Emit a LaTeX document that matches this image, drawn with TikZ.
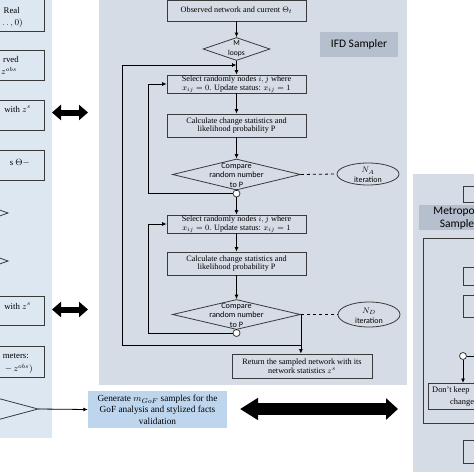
\documentclass[tikz,border=0pt]{standalone}
\usepackage{fontspec}
\setmainfont{Liberation Serif}
\newfontfamily\calibri{Carlito}
\usetikzlibrary{arrows.meta,shapes.geometric,calc}
\definecolor{leftbg}{HTML}{DDE7F2}
\definecolor{midbg}{HTML}{D6DCE5}
\definecolor{lblbg}{HTML}{B6BFCD}
\definecolor{genbg}{HTML}{BDD6EE}
\definecolor{edge}{HTML}{3A3A3A}
\begin{document}
\begin{tikzpicture}[x=1pt,y=-1pt,
  >={Latex[length=4.5pt,width=4pt]},
  box/.style={draw=edge, line width=0.8pt, fill=midbg, align=center, inner sep=0pt,
    font=\fontsize{8.2}{8.8}\selectfont},
  dia/.style={draw=edge, line width=0.8pt, fill=midbg, diamond, inner sep=0pt},
  sanstxt/.style={align=center, inner sep=0pt, font=\calibri\fontsize{8.2}{9.4}\selectfont},
  ell/.style={draw=edge, line width=0.8pt, fill=midbg, ellipse, inner sep=0pt},
  conn/.style={draw=black, line width=0.8pt},
  lbox/.style={draw=edge, line width=0.8pt},
  ltxt/.style={inner sep=0pt, anchor=east, font=\fontsize{8.8}{10}\selectfont},
  lbl/.style={fill=lblbg, inner sep=0pt, align=center, font=\calibri\fontsize{11.5}{13}\selectfont},
  fat/.style={line width=6pt, {Triangle[length=9pt,width=15pt]}-{Triangle[length=9pt,width=15pt]}},
  bigfat/.style={line width=12pt, {Triangle[length=18pt,width=21pt]}-{Triangle[length=12pt,width=21pt]}}
]
\useasboundingbox (0,0) rectangle (474,474);
\clip (0,0) rectangle (474,474);
\fill[white] (0,0) rectangle (474,474);

% ---------- panels ----------
\fill[leftbg] (0,0) rectangle (52,438);
\fill[midbg] (99,0) rectangle (407,385);
\fill[midbg] (413,174) rectangle (480,472);

% ---------- left panel ----------
\draw[lbox] (-60,-5) rectangle (44,31);
\node[ltxt] (l1a) at (20,10) {Real};
\node[ltxt] (l1b) at (23,23) {$\ldots,0)$};
\draw[lbox] (-60,50) rectangle (44,80);
\node[ltxt] (l2a) at (19,59) {rved};
\node[ltxt] (l2b) at (17,71) {$z^{obs}$};
\draw[lbox] (-60,100) rectangle (44,130);
\node[ltxt] (l3a) at (31,109) {with $z^s$};
\draw[lbox] (-60,150) rectangle (44,180);
\node[ltxt] (l4a) at (30,163) {s $\Theta -$};
\draw[lbox] (-20,203) -- (8,213) -- (-20,223);
\draw[lbox] (-20,251) -- (8,261) -- (-20,271);
\draw[lbox] (-60,296) rectangle (44,325);
\node[ltxt] (l5a) at (31,306) {with $z^s$};
\draw[lbox] (-60,346) rectangle (44,377);
\node[ltxt] (l6a) at (29,356) {meters:};
\node[ltxt] (l6b) at (33,369) {$-\,z^{obs})$};
\coordinate (ld3tip) at (38,409);
\draw[lbox] (-5,397.5) -- (ld3tip) -- (-5,420.5);

% ---------- fat arrows ----------
\coordinate (fa1) at (52,112.5);
\coordinate (fa2) at (88,112.5);
\coordinate (fb1) at (52,309.5);
\coordinate (fb2) at (88,309.5);
\draw[fat] (fa1) -- (fa2);
\draw[fat] (fb1) -- (fb2);

% ---------- IFD sampler ----------
\node[lbl, minimum width=78, minimum height=25] (ifd) at (359,44.5) {IFD Sampler};

\node[box, minimum width=139, minimum height=21] (obs) at (236.5,10.5) {Observed network and current $\Theta_t$};
\node[dia, minimum width=67, minimum height=23] (mloops) at (236.5,49) {};
\node[sanstxt, font=\calibri\fontsize{7.6}{9.6}\selectfont] (mloopst) at (236.5,48.5) {M\\loops};
\node[box, minimum width=139, minimum height=18] (sel1) at (236.5,84) {Select randomly nodes $i,j$ where\\$x_{ij}=0$. Update status: $x_{ij}=1$};
\node[box, minimum width=139, minimum height=23] (calc1) at (236.5,125.5) {Calculate change statistics and\\likelihood probability P};
\node[dia, minimum width=128, minimum height=31] (cmp1) at (236.5,174.5) {};
\node[sanstxt] (cmp1t) at (236.5,175) {Compare\\random number\\to P};
\node[draw=edge, line width=0.8pt, fill=white, circle, minimum size=7, inner sep=0pt] (c1) at (236.5,193.5) {};
\node[ell, minimum width=62, minimum height=22] (na) at (368,174) {};
\node[sanstxt, font=\calibri\fontsize{8}{10}\selectfont] (nat) at (368,175) {$N_A$\\iteration};

\node[box, minimum width=139, minimum height=18] (sel2) at (236.5,224) {Select randomly nodes $i,j$ where\\$x_{ij}=0$. Update status: $x_{ij}=1$};
\node[box, minimum width=139, minimum height=23] (calc2) at (236.5,263.5) {Calculate change statistics and\\likelihood probability P};
\node[dia, minimum width=128, minimum height=30] (cmp2) at (236.5,314.5) {};
\node[sanstxt] (cmp2t) at (236.5,315) {Compare\\random number\\to P};
\node[draw=edge, line width=0.8pt, fill=white, circle, minimum size=7, inner sep=0pt] (c2) at (236.5,333) {};
\node[ell, minimum width=62, minimum height=25] (nd) at (369,314.5) {};
\node[sanstxt, font=\calibri\fontsize{8}{10}\selectfont] (ndt) at (369,315.5) {$N_D$\\iteration};

\node[box, minimum width=140, minimum height=24] (ret) at (302,366) {Return the sampled network with its\\network statistics $z^s$};

% connectors
\draw[conn,->] (obs.south) -- (mloops.north);
\draw[conn,->] (mloops.south) -- (sel1.north);
\draw[conn,->] (sel1.south) -- (calc1.north);
\draw[conn,->] (calc1.south) -- (cmp1.north);
\draw[conn] (cmp1.south) -- (c1.north);
\draw[conn,->] (c1.south) -- (sel2.north);
\draw[conn,->] (sel2.south) -- (calc2.north);
\draw[conn,->] (calc2.south) -- (cmp2.north);
\draw[conn] (cmp2.south) -- (c2.north);
\draw[conn,->] (c1.west) -- (148.5,193.5) |- (sel1.west);
\draw[conn,->] (c2.west) -- (148.5,333) |- (sel2.west);
\draw[conn, dashed] (cmp1.east) -- (na.west);
\draw[conn, dashed] (cmp2.east) -- (nd.west);
\coordinate (rj) at (301,345);
\coordinate (mj) at (236.5,65);
\draw[conn,->] (cmp2.east) -- (cmp2.east |- ret.north);
\draw[conn,->] (rj) -- (122.5,345) -- (122.5,65) -- (mj);

% ---------- generate box ----------
\node[fill=genbg, minimum width=139, minimum height=37, inner sep=0pt, align=center,
  font=\fontsize{9.3}{11.4}\selectfont] (gen) at (157.5,409.5)
  {Generate $m_{GoF}$ samples for the\\GoF analysis and stylized facts\\validation};
\draw[conn,->] (ld3tip) -- (gen.west);
\coordinate (ba1) at (240,409);
\coordinate (ba2) at (398,409);
\draw[bigfat] (ba1) -- (ba2);

% ---------- Metropolis sampler ----------
\draw[lbox] (463,186) rectangle (500,202);
\node[lbl, minimum width=80, minimum height=25] (met) at (459,217.5) {Metropolis\\Sampler};
\draw[lbox] (423,238) rectangle (500,423);
\draw[lbox] (463,267) rectangle (500,285);
\draw[lbox] (463,295) rectangle (500,317);
\node[draw=edge, line width=0.8pt, fill=white, circle, minimum size=7, inner sep=0pt] (c3) at (463,356) {};
\coordinate (c3r) at (480,356);
\draw[conn] (c3.east) -- (c3r);
\draw[lbox] (428,383) rectangle (500,409);
\node[inner sep=0pt, anchor=west, font=\fontsize{8.4}{10}\selectfont] (dk1) at (432,390) {Don't keep};
\node[inner sep=0pt, anchor=west, font=\fontsize{8.4}{10}\selectfont] (dk2) at (450,402) {changes};
\coordinate (dktop) at (463,383);
\draw[conn,->] (c3.south) -- (dktop);
\draw[lbox] (463,440) rectangle (500,463);
\end{tikzpicture}
\end{document}
